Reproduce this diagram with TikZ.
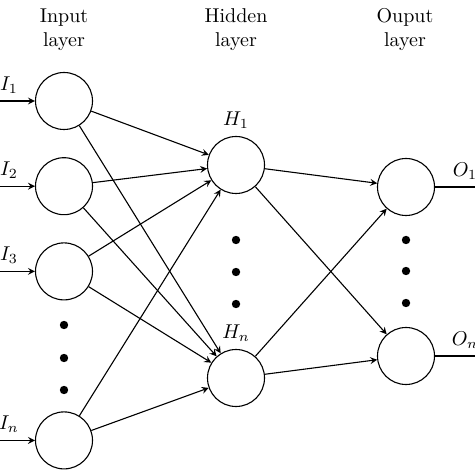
\documentclass[tikz,border=0pt]{standalone}
\usepackage{amsmath,amsfonts}
\usepackage{tikz}
\usetikzlibrary{positioning}

\begin{document}
\begin{tikzpicture}[x=0.5pt, y=-0.5pt, node distance={42.6pt}, line width=0.55pt, >=stealth,
    main/.style = {draw, circle, minimum size=28.5pt, inner sep=0pt},
    dot/.style = {fill, circle, minimum size=4.2pt, inner sep=0pt},
    head/.style = {align=center}]
    \useasboundingbox (0,0) rectangle (474,474);
    \node[head] (t1) at (64,30) {Input\\layer};
    \node[head] (t2) at (236,30) {Hidden\\layer};
    \node[head] (t3) at (405,30) {Ouput\\layer};
    \node[main] (i1) at (64,101) {};
    \node[main] (i2) [below of=i1] {};
    \node[main] (i3) [below of=i2] {};
    \node[main] (in) [below of=i3, node distance=84.5pt] {};
    \node[main] (h1) at (236,165) {};
    \node[main] (hn) [below of=h1, node distance=106.5pt] {};
    \node[main] (o1) at (406,187) {};
    \node[main] (on) [below of=o1, node distance=84.5pt] {};
    % dots
    \foreach \y in {325,358,390} \node[dot] at (64,\y) {};
    \foreach \y in {240,272,304} \node[dot] at (236,\y) {};
    \foreach \y in {240,271,303} \node[dot] at (406,\y) {};
    % inputs
    \foreach \a/\t in {i1/1,i2/2,i3/3,in/n} {
      \coordinate (s\a) at ([xshift=-30pt]\a.west);
      \draw[->] (s\a) -- (\a);
      \node (l\a) at ([xshift=-13pt,yshift=8pt]\a.west) {$I_\t$};
    }
    \node (lh1) [above=0pt of h1] {$H_1$};
    \node (lhn) [above=0pt of hn] {$H_n$};
    % weights
    \foreach \a in {i1,i2,i3,in}
      \foreach \b in {h1,hn}
        \draw[->] (\a) -- (\b);
    \foreach \a in {h1,hn}
      \foreach \b in {o1,on}
        \draw[->] (\a) -- (\b);
    % outputs
    \foreach \a/\t in {o1/1,on/n} {
      \coordinate (e\a) at ([xshift=40pt]\a.east);
      \draw (\a) -- (e\a);
      \node (l\a) at ([xshift=15pt,yshift=8pt]\a.east) {$O_\t$};
    }
\end{tikzpicture}
\end{document}
